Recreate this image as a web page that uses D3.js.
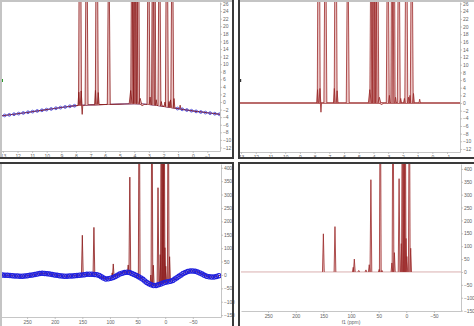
<!DOCTYPE html>
<html>
<head>
<meta charset="utf-8">
<script src="https://cdn.jsdelivr.net/npm/d3@7"></script>
<style>
  body { margin: 0; background: #fff; }
  svg { display: block; }
  .tick text { font-family: "Liberation Sans", Arial, sans-serif; font-size: 5px; letter-spacing: -0.15px; fill: #666; }
  .domain, .tick line { stroke: #b8b8b8; stroke-width: 0.8; }
</style>
</head>
<body>
<div id="plot"></div>
<script>
// tick labels
const h1XTicks = [13, 12, 11, 10, 9, 8, 7, 6, 5, 4, 3, 2, 1, 0, -1];
const h1YTicks = [26, 24, 22, 20, 18, 16, 14, 12, 10, 8, 6, 4, 2, 0, -2, -4, -6, -8, -10, -12];
const c13XTicks = [250, 200, 150, 100, 50, 0, -50];
const c13YTicks = [400, 350, 300, 250, 200, 150, 100, 50, 0, -50, -100, -150];

// 1H peaks: [ppm, height, half width]
const h1Peaks = [
    [7.80, 3.5, 0.06], [7.72, 90, 0.1], [7.64, 3.8, 0.06], [7.57, -2.4, 0.04],
    [7.27, 60, 0.1],
    [6.66, 3.8, 0.06], [6.57, 80, 0.1], [6.47, 3.2, 0.06],
    [5.75, 50, 0.1],
    [4.25, 3.5, 0.1], [4.15, 60, 0.1], [4.05, 90, 0.1], [3.96, 110, 0.1], [3.86, 80, 0.1], [3.74, 70, 0.1], [3.6, 1.5, 0.1],
    [3.45, -0.5, 0.12],
    [3.03, 60, 0.1], [2.92, 2.0, 0.06],
    [2.72, 80, 0.1], [2.63, 100, 0.1], [2.5, 1.5, 0.06],
    [2.28, 60, 0.1], [2.15, 1.2, 0.06],
    [1.9, 1.2, 0.06], [1.77, 70, 0.1], [1.62, 1.5, 0.06],
    [1.52, 2.0, 0.06], [1.40, 60, 0.1], [1.28, 2.5, 0.06],
    [0.86, 1.0, 0.05]
];
// fitted 1H baseline: [ppm, value]
const h1Baseline = [
    [13.2, -3.7], [12, -3.1], [11, -2.55], [10, -2.0], [9, -1.45], [8, -0.95], [7, -0.75], [6, -0.65],
    [5, -0.55], [4, -0.45], [3, -0.65], [2, -1.15], [1, -1.75], [0, -2.35], [-1, -2.85], [-1.9, -3.25]
];

// 13C peaks: [ppm, height, half width]
const c13Peaks = [
    [150, 148, 1.6], [129, 176, 1.6], [96, 18, 1.5], [94, 50, 1.6], [86, 6, 1.5], [73, 8, 1.5],
    [67, 28, 1.5], [64, 358, 1.6], [49, 10, 1.5], [47, 900, 1.6], [44, 6, 1.5],
    [26, 35, 1.5], [24, 900, 1.6], [21.5, 75, 1.5], [13, 362, 1.6],
    [9, 110, 1.5], [7, 900, 1.6], [5, 900, 1.6], [3.5, 900, 1.6], [2, 900, 1.6], [0.5, 130, 1.5],
    [-1, 60, 1.5], [-5.5, 900, 1.6], [-8, 92, 1.5]
];
// fitted 13C baseline: [ppm, value]
const c13Baseline = [
    [299, 0], [275, -3], [262, -5], [240, 0], [222, 6], [200, 0], [180, -5], [165, -3], [150, 0],
    [137, 3], [122, 0], [107, -15], [95, -10], [80, 5], [68, 10], [55, 0], [45, -10], [30, -32],
    [20, -40], [10, -35], [0, -28], [-12, -22], [-25, -5], [-35, 8], [-49, 15], [-62, 8], [-75, -5],
    [-85, -8], [-101, 0]
];

const width = 474, height = 326;
const svg = d3.select("#plot").append("svg")
    .attr("width", width)
    .attr("height", height);

const panels = [
    { id: "tl", xr: [0, 220], yr: [151, 2], xd: [13.2, -1.87], yd: [-12.93, 26.4],
      peaks: h1Peaks, base: h1Baseline, xt: h1XTicks, yt: h1YTicks, lineW: 1.1, lineC: "#8f2525",
      mark: { r: 1.4, step: 4.7, color: "#4b4bd8", w: 0.9, skip: [7.93, 1.08] } },
    { id: "tr", xr: [239, 460], yr: [152, 2], xd: [13.14, -1.88], yd: [-12.8, 26.4],
      peaks: h1Peaks, base: null, xt: h1XTicks, yt: h1YTicks, lineW: 1.4, lineC: "#a23a3a" },
    { id: "bl", xr: [0, 221], yr: [317, 164], xd: [299, -101], yd: [-157, 414],
      peaks: c13Peaks, base: c13Baseline, xt: c13XTicks, yt: c13YTicks, lineW: 0.8, lineC: "#9b2d2d",
      mark: { r: 2.2, step: 2.5, color: "#1f1fdd", w: 1.1, skip: null } },
    { id: "br", xr: [241, 461], yr: [311, 164], xd: [299, -99], yd: [-151.5, 419],
      peaks: c13Peaks, base: null, xt: c13XTicks, yt: c13YTicks, lineW: 0.8, lineC: "#d09c9c",
      title: "f1 (ppm)" }
];

panels.forEach(p => {
    const x = d3.scaleLinear().domain(p.xd).range(p.xr);
    const y = d3.scaleLinear().domain(p.yd).range(p.yr);
    const bl = p.base
        ? d3.scaleLinear().domain(p.base.map(d => d[0])).range(p.base.map(d => d[1]))
        : () => 0;

    svg.append("clipPath").attr("id", "clip-" + p.id)
        .append("rect")
        .attr("x", p.xr[0]).attr("y", p.yr[1])
        .attr("width", p.xr[1] - p.xr[0]).attr("height", p.yr[0] - p.yr[1]);

    svg.append("g")
        .attr("transform", "translate(0," + p.yr[0] + ")")
        .call(d3.axisBottom(x).tickValues(p.xt).tickSize(2).tickPadding(1).tickSizeOuter(0));
    svg.append("g")
        .attr("transform", "translate(" + p.xr[1] + ",0)")
        .call(d3.axisRight(y).tickValues(p.yt).tickSize(2).tickPadding(1).tickSizeOuter(0));

    const plot = svg.append("g").attr("clip-path", "url(#clip-" + p.id + ")");

    // spectrum baseline (raw follows fitted baseline, corrected sits at 0)
    const baseData = p.base ? p.base : [[p.xd[0], 0], [p.xd[1], 0]];
    const baseLine = d3.line()
        .x(d => x(d[0]))
        .y(d => y(d[1]))
        .curve(d3.curveMonotoneX);

    let bluePath = null;
    if (p.mark) {
        bluePath = plot.append("path")
            .datum(baseData)
            .attr("fill", "none")
            .attr("stroke", p.mark.color)
            .attr("stroke-width", 0.8)
            .attr("d", baseLine);
    }
    plot.append("path")
        .datum(baseData)
        .attr("fill", "none")
        .attr("stroke", p.lineC)
        .attr("stroke-width", p.lineW)
        .attr("d", baseLine);

    // peaks
    const peakArea = d3.area()
        .x(d => x(d[0]))
        .y0(d => y(d[2]))
        .y1(d => y(d[1]));
    const peakLine = d3.line()
        .x(d => x(d[0]))
        .y(d => y(d[1]));
    const peakPts = p.peaks.map(([ppm, h, w]) => [
        [ppm - w, bl(ppm - w), bl(ppm - w)],
        [ppm, bl(ppm) + h, bl(ppm)],
        [ppm + w, bl(ppm + w), bl(ppm + w)]
    ]);
    plot.selectAll(".peakfill").data(peakPts).join("path")
        .attr("class", "peakfill")
        .attr("fill", "#ecc6c6")
        .attr("d", peakArea);
    plot.selectAll(".peak").data(peakPts).join("path")
        .attr("class", "peak")
        .attr("fill", "none")
        .attr("stroke", p.base ? "#8b1a1a" : "#9b2828")
        .attr("stroke-width", 0.8)
        .attr("d", peakLine);

    // markers of the fitted baseline
    if (p.mark) {
        const node = bluePath.node();
        const len = node.getTotalLength();
        let pts = d3.range(0, len, p.mark.step).map(l => node.getPointAtLength(l));
        if (p.mark.skip) {
            const a = x(p.mark.skip[0]), b = x(p.mark.skip[1]);
            pts = pts.filter(q => q.x < a || q.x > b);
        }
        plot.selectAll(".mk").data(pts).join("circle")
            .attr("class", "mk")
            .attr("cx", d => d.x)
            .attr("cy", d => d.y)
            .attr("r", p.mark.r)
            .attr("fill", "none")
            .attr("stroke", p.mark.color)
            .attr("stroke-width", p.mark.w);
    }

    if (p.title) {
        svg.append("text")
            .attr("x", x(100))
            .attr("y", 323.5)
            .attr("text-anchor", "middle")
            .attr("font-family", "Liberation Sans, Arial, sans-serif")
            .attr("font-size", 5)
            .attr("fill", "#666")
            .text(p.title);
    }
});

// pivot markers
svg.append("rect").attr("x", 0).attr("y", 79).attr("width", 3).attr("height", 3).attr("fill", "#2a9a2a");
svg.append("rect").attr("x", 240).attr("y", 79).attr("width", 1.2).attr("height", 3).attr("fill", "#333");

// panel frames
const light = "#c4c4c4", dark = "#3a3a3a";
[
    [0, 0, 232, 2, light], [240, 0, 234, 2, light],
    [0, 0, 2, 159, light], [0, 162, 2, 164, light],
    [232, 0, 2, 159, dark], [0, 157, 234, 2, dark],
    [238, 0, 2, 159, dark], [238, 157, 236, 2, dark],
    [0, 162, 234, 2, dark], [232, 162, 2, 164, dark],
    [238, 162, 236, 2, dark], [238, 162, 2, 164, dark]
].forEach(([rx, ry, rw, rh, c]) => {
    svg.append("rect").attr("x", rx).attr("y", ry).attr("width", rw).attr("height", rh).attr("fill", c);
});
</script>
</body>
</html>
